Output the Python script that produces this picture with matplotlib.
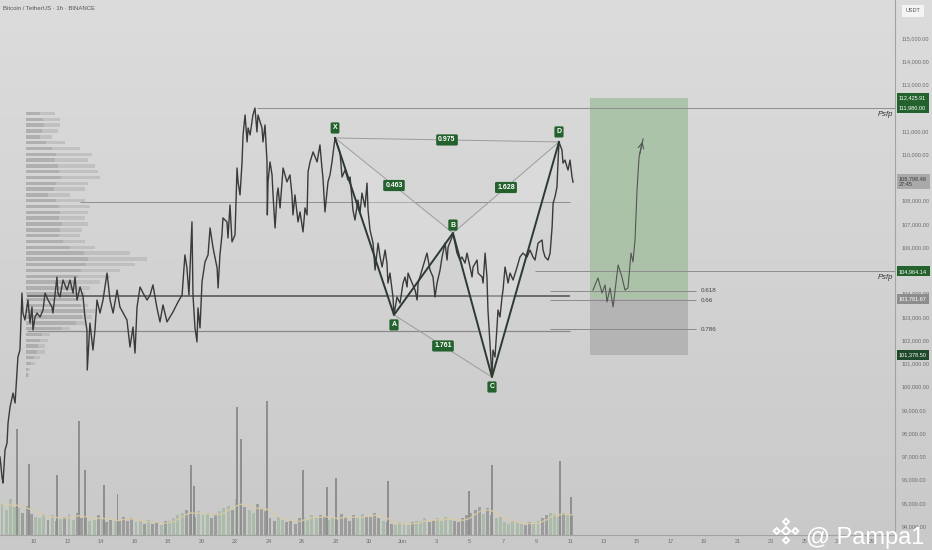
import numpy as np
import pandas as pd
import matplotlib
matplotlib.use("Agg")
import matplotlib.pyplot as plt
from matplotlib.colors import LinearSegmentedColormap
from matplotlib.patches import Polygon, Rectangle, RegularPolygon
from matplotlib.transforms import blended_transform_factory

plt.rcParams["font.family"] = ["Liberation Sans", "DejaVu Sans"]

# time axis: days after 10 May 00:00, prices in USDT
PRICE_DAY = [
    -2.03, -1.91, -1.85, -1.73, -1.61, -1.55, -1.43, -1.25, -1.13, -0.96,
    -0.84, -0.72, -0.66, -0.54, -0.36, -0.24, -0.12, -0.06, 0.06, 0.18,
    0.36, 0.54, 0.66, 0.84, 1.07, 1.13, 1.37, 1.43, 1.55, 1.73,
    1.97, 2.15, 2.33, 2.45, 2.57, 2.75, 2.93, 3.04, 3.16, 3.18,
    3.34, 3.52, 3.64, 3.76, 3.94, 4.12, 4.36, 4.54, 4.72, 4.96,
    5.13, 5.55, 5.73, 5.91, 6.03, 6.15, 6.33, 6.51, 6.75, 6.93,
    7.10, 7.34, 7.52, 7.70, 7.94, 8.30, 8.60, 8.84, 9.01, 9.13,
    9.25, 9.43, 9.49, 9.61, 9.73, 9.79, 9.91, 10.03, 10.21, 10.39,
    10.51, 10.69, 10.93, 10.99, 11.10, 11.22, 11.28, 11.52, 11.58, 11.70,
    11.82, 12.00, 12.12, 12.18, 12.30, 12.42, 12.48, 12.60, 12.72, 12.78,
    12.90, 13.07, 13.19, 13.31, 13.37, 13.61, 13.67, 13.79, 13.91, 13.93,
    13.97, 14.09, 14.21, 14.27, 14.39, 14.51, 14.57, 14.69, 14.87, 15.10,
    15.28, 15.40, 15.46, 15.58, 15.76, 15.88, 16.06, 16.18, 16.30, 16.36,
    16.48, 16.66, 16.90, 17.07, 17.19, 17.25, 17.37, 17.55, 17.67, 17.79,
    17.97, 18.27, 18.39, 18.57, 18.75, 18.87, 19.04, 19.16, 19.34, 19.46,
    19.58, 19.76, 19.88, 19.94, 20.06, 20.24, 20.36, 20.54, 20.66, 20.78,
    20.96, 21.07, 21.13, 21.25, 21.43, 21.49, 21.67, 21.85, 22.03, 22.15,
    22.27, 22.33, 22.57, 22.75, 22.87, 22.93, 23.16, 23.34, 23.46, 23.64,
    23.82, 23.94, 24.06, 24.24, 24.36, 24.54, 24.66, 24.72, 24.96, 25.01,
    25.13, 25.25, 25.43, 25.55, 25.73, 25.85, 26.03, 26.15, 26.21, 26.45,
    26.51, 26.75, 26.81, 26.93, 27.04, 27.10, 27.22, 27.34, 27.40, 27.52,
    27.64, 27.70, 27.82, 27.94, 28.00, 28.12, 28.24, 28.30, 28.42, 28.60,
    28.84, 29.01, 29.19, 29.43, 29.61, 29.79, 29.91, 30.09, 30.33, 30.39,
    30.51, 30.69, 30.81, 30.93, 30.99, 31.10, 31.22, 31.28, 31.34, 31.52,
    31.58, 31.70, 31.82, 31.88, 32.00, 32.12, 32.18,
]
PRICE = [
    96980, 96120, 95860, 97280, 97580, 98440, 99130, 99730, 99300, 101280,
    101580, 104030, 103170, 102870, 103730, 102740, 103430, 102440, 103000, 103170,
    103000, 103300, 104030, 103730, 103430, 103170, 104720, 104030, 103860, 104590,
    104160, 104590, 104030, 104720, 103730, 104290, 103860, 103000, 102440, 100720,
    102740, 101580, 102440, 103730, 103170, 103730, 104890, 103730, 103170, 104160,
    103430, 102870, 101710, 102570, 101450, 103430, 104290, 104030, 103730, 103950,
    104380, 103390, 102790, 103520, 102790, 103220, 103650, 103950, 105670, 105110,
    103950, 107090, 103950, 102530, 101930, 103390, 102530, 104510, 105370, 105670,
    106830, 105970, 105110, 104250, 105670, 106530, 107260, 107090, 106400, 107820,
    106230, 106530, 109410, 108810, 108250, 109670, 110830, 111690, 110530, 111130,
    110830, 111690, 111990, 110960, 111690, 111130, 110530, 111260, 109670, 107390,
    108810, 109670, 109110, 108250, 106830, 108250, 108550, 107690, 109410, 108810,
    109110, 108250, 107390, 108250, 107090, 107520, 106660, 107690, 107390, 109240,
    109670, 110100, 109670, 110400, 109410, 108980, 107520, 108810, 109110, 109670,
    110700, 110050, 109020, 109320, 108890, 109020, 107600, 107170, 108030, 107470,
    108330, 107730, 108760, 107600, 106740, 106180, 105020, 106180, 105580, 105150,
    105880, 105320, 104460, 104890, 103860, 103090, 103860, 103600, 104460, 104720,
    104290, 104890, 104460, 104160, 103730, 104460, 105020, 105450, 105750, 105020,
    104720, 103860, 104460, 105020, 105580, 106180, 105450, 106010, 106440, 106610,
    106180, 105750, 105450, 105580, 105320, 105750, 105150, 104720, 105150, 105450,
    104890, 104720, 104460, 105750, 104720, 103300, 101880, 100420, 101580, 101280,
    102570, 103300, 103000, 103860, 104160, 105150, 104720, 104460, 104890, 104590,
    105150, 105580, 105750, 105580, 105880, 105580, 105450, 106180, 106310, 105880,
    105580, 105450, 105750, 106870, 107900, 108160, 108590, 109620, 110530, 110180,
    109620, 109750, 109450, 109320, 109750, 109020, 108800,
]
CURRENT_PRICE = 108798.48

# harmonic pattern pivots
PIVOT_NAMES = ["X", "A", "B", "C", "D"]
PIVOT_DAY = [17.97, 21.49, 25.01, 27.34, 31.34]
PIVOT_PRICE = [110700, 103090, 106610, 100420, 110530]
RATIO_LEGS = [("X", "D", "0.975"), ("X", "B", "0.463"), ("B", "D", "1.628"), ("A", "C", "1.761")]

# long position tool
ENTRY = 103781.67
TARGET = 112425.91
STOP = 101378.50
POSITION_START, POSITION_END = 33.19, 39.04

# horizontal levels (price, start day, end day)
PSFP_HIGH = (111980.00, 13.31)
PSFP_LOW = (104964.14, 29.91)
LEVEL_MID = (107950, 2.75, 32.0)
LEVEL_POC = (103900, -0.42, 32.0)
LEVEL_LOW = (102400, -0.42, 32.0)

FIB_HIGH, FIB_LOW = 110250, 100350
FIB_RATIOS = [0.618, 0.66, 0.786]
FIB_START, FIB_END = 30.81, 39.5

# hand drawn projection
PROJ_DAY = [33.37, 33.67, 33.91, 34.09, 34.21, 34.39, 34.57, 34.87, 35.10,
            35.28, 35.46, 35.64, 35.76, 35.88, 36.00, 36.12, 36.36]
PROJ_PRICE = [104160, 104680, 104030, 104380, 103650, 104250, 103430, 105240, 104720,
              104160, 104250, 105750, 105370, 106310, 108460, 109880, 110660]

# visible range volume profile (relative volume per 250 USDT row)
PROFILE_PRICE = [
    111750, 111500, 111250, 111000, 110750, 110500, 110250, 110000, 109750, 109500,
    109250, 109000, 108750, 108500, 108250, 108000, 107750, 107500, 107250, 107000,
    106750, 106500, 106250, 106000, 105750, 105500, 105250, 105000, 104750, 104500,
    104250, 104000, 103750, 103500, 103250, 103000, 102750, 102500, 102250, 102000,
    101750, 101500, 101250, 101000, 100750, 100500,
]
PROFILE_TOTAL = [
    29, 34, 34, 32, 26, 39, 54, 66, 62, 69, 72, 74, 62, 59, 44, 59, 64, 62, 59, 62,
    56, 54, 59, 69, 104, 121, 109, 94, 84, 74, 64, 59, 57, 62, 69, 66, 59, 44, 24, 22,
    19, 19, 14, 9, 4, 3,
]
PROFILE_UP = [
    14, 17, 18, 16, 14, 20, 26, 30, 29, 32, 33, 35, 30, 28, 22, 30, 33, 34, 33, 36,
    34, 33, 37, 44, 58, 62, 60, 55, 52, 50, 48, 50, 52, 55, 58, 56, 50, 36, 16, 14,
    12, 11, 8, 5, 2, 2,
]
PROFILE_LEFT = -0.48
PROFILE_MAX_WIDTH = 7.2

# volume, BTC per 6h bucket starting 8 May 00:00
VOLUME_START = -2.0
VOLUME_STEP = 0.25
VOLUME = [
    2200, 1800, 2600, 2000, 1900, 1600, 2100, 1500, 1300, 1200, 1500, 1100,
    1400, 1000, 1200, 1300, 1500, 1100, 1600, 1200, 1300, 1000, 1100, 1400,
    1200, 900, 1100, 1000, 1100, 1300, 1000, 1200, 900, 1000, 800, 1100,
    800, 900, 700, 1000, 1000, 1200, 1400, 1600, 1800, 1500, 1300, 1700,
    1400, 1600, 1200, 1500, 1700, 1900, 2100, 1800, 2600, 2300, 2000, 1800,
    1600, 2200, 1900, 1700, 1200, 1000, 1300, 1100, 900, 1000, 800, 1200,
    1300, 1100, 1400, 1200, 1400, 1300, 1100, 1200, 1100, 1500, 1300, 1000,
    1400, 1200, 1500, 1300, 1300, 1600, 1200, 1000, 900, 800, 700, 900,
    800, 700, 900, 1000, 1000, 1200, 900, 1100, 1200, 1000, 1300, 1100,
    1000, 900, 1200, 1400, 1600, 1800, 2000, 1500, 1900, 1400, 1200, 1300,
    900, 800, 1000, 900, 800, 700, 900, 800, 1000, 1200, 1400, 1600,
    1500, 1300, 1600, 1400, 1500,
]
SPIKE_DAY = [-1.01, -0.30, 1.37, 2.69, 3.04, 4.18, 4.96, 9.37, 9.55, 12.12,
             12.36, 13.91, 16.06, 17.49, 18.03, 21.13, 25.97, 27.34, 31.40, 32.06]
SPIKE_VOLUME = [7570, 5070, 4280, 8140, 4640, 3570, 2930, 5000, 3500, 9140,
                6850, 9570, 4640, 3430, 4070, 3860, 3140, 5000, 5280, 2710]

DATE_TICKS = list(range(0, 51, 2))
DATE_LABELS = ["10", "12", "14", "16", "18", "20", "22", "24", "26", "28", "30", "Jun",
               "3", "5", "7", "9", "11", "13", "15", "17", "19", "21", "23", "25", "27", "29"]
PRICE_TICKS = [p for p in range(94000, 116000, 1000) if p not in (112000, 109000, 105000)]

GREEN_TAG = "#23622d"
AXIS_TEXT = "#6d6d6d"
SCALE_FONT = 4.0


def pivot(name):
    i = PIVOT_NAMES.index(name)
    return PIVOT_DAY[i], PIVOT_PRICE[i]


def main() -> None:
    fig = plt.figure(figsize=(9.32, 5.5), dpi=100)

    bg = fig.add_axes([0, 0, 1, 1])
    bg.imshow(np.linspace(0, 1, 256).reshape(-1, 1),
              cmap=LinearSegmentedColormap.from_list("bg", ["#dcdcdc", "#c9c9c9"]),
              aspect="auto", extent=[0, 1, 0, 1])
    bg.axis("off")

    rect = [0.0, 15 / 550, 895 / 932, 535 / 550]
    ax = fig.add_axes(rect)
    vax = fig.add_axes([rect[0], rect[1], rect[2], 140 / 550], sharex=ax)
    ax.set_zorder(3)
    vax.set_zorder(2)
    ax.patch.set_visible(False)
    vax.patch.set_visible(False)

    ax.set_xlim(-2.03, 51.40)
    ax.set_ylim(93624, 116634)

    # volume pane
    starts = VOLUME_START + VOLUME_STEP * np.arange(len(VOLUME))
    p0 = np.interp(starts, PRICE_DAY, PRICE)
    p1 = np.interp(starts + VOLUME_STEP, PRICE_DAY, PRICE)
    colors = np.where(p1 >= p0, "#a6b9a4", "#959595")
    vax.bar(starts, VOLUME, width=VOLUME_STEP * 0.7, align="edge", color=colors, linewidth=0, alpha=0.85)
    vax.bar(SPIKE_DAY, SPIKE_VOLUME, width=0.07, color="#8f8f8f", linewidth=0)
    ma = pd.Series(VOLUME).rolling(4, min_periods=1).mean()
    vax.plot(starts + VOLUME_STEP / 2, ma, color="#d8caa6", linewidth=1.0, alpha=0.9)
    vax.set_ylim(0, 10000)
    vax.axis("off")

    # volume profile
    scale = PROFILE_MAX_WIDTH / max(PROFILE_TOTAL)
    ax.barh(PROFILE_PRICE, np.array(PROFILE_TOTAL) * scale, left=PROFILE_LEFT, height=150,
            color="#b3b3b3", alpha=0.6, linewidth=0, zorder=1)
    ax.barh(PROFILE_PRICE, np.array(PROFILE_UP) * scale, left=PROFILE_LEFT, height=150,
            color="#a0a0a0", alpha=0.5, linewidth=0, zorder=1)

    # horizontal levels
    ax.hlines(PSFP_HIGH[0], PSFP_HIGH[1], 51.4, color="#8e8e8e", linewidth=0.7, zorder=2)
    ax.hlines(PSFP_LOW[0], PSFP_LOW[1], 51.4, color="#8e8e8e", linewidth=0.7, zorder=2)
    ax.hlines(LEVEL_MID[0], LEVEL_MID[1], LEVEL_MID[2], color="#8e8e8e", linewidth=0.7, zorder=2)
    ax.hlines(LEVEL_POC[0], LEVEL_POC[1], LEVEL_POC[2], color="#4f4f4f", linewidth=1.1, zorder=2)
    ax.hlines(LEVEL_LOW[0], LEVEL_LOW[1], LEVEL_LOW[2], color="#8a8a8a", linewidth=0.9, zorder=2)
    for r in FIB_RATIOS:
        level = FIB_HIGH - r * (FIB_HIGH - FIB_LOW)
        ax.hlines(level, FIB_START, FIB_END, color="#8a8a8a", linewidth=0.7, zorder=2)
        ax.text(FIB_END + 0.3, level, f"{r:g}", fontsize=4.5, color="#444444", va="center", ha="left")

    # position tool
    ax.add_patch(Rectangle((POSITION_START, ENTRY), POSITION_END - POSITION_START, TARGET - ENTRY,
                           facecolor="#a9c2a7", edgecolor="none", alpha=0.95, zorder=1))
    ax.add_patch(Rectangle((POSITION_START, STOP), POSITION_END - POSITION_START, ENTRY - STOP,
                           facecolor="#b3b3b3", edgecolor="none", alpha=0.95, zorder=1))

    # price
    ax.plot(PRICE_DAY, PRICE, color="#3a3a3a", linewidth=1.0, zorder=4)

    # harmonic pattern
    for tri in (("X", "A", "B"), ("B", "C", "D")):
        ax.add_patch(Polygon([pivot(n) for n in tri], closed=True, facecolor="#e4e4e4",
                             edgecolor="none", alpha=0.35, zorder=3))
    for a, b, _ in RATIO_LEGS:
        xa, ya = pivot(a)
        xb, yb = pivot(b)
        ax.plot([xa, xb], [ya, yb], color="#9c9c9c", linewidth=0.7, zorder=3)
    ax.plot(PIVOT_DAY, PIVOT_PRICE, color="#2c3a30", linewidth=1.4, zorder=5)

    tag = dict(boxstyle="round,pad=0.3,rounding_size=0.2", facecolor=GREEN_TAG, edgecolor="none")
    offsets = {"X": 10, "A": -10, "B": 8, "C": -10, "D": 10}
    for name, d, p in zip(PIVOT_NAMES, PIVOT_DAY, PIVOT_PRICE):
        ax.annotate(name, (d, p), xytext=(0, offsets[name]), textcoords="offset pixels",
                    ha="center", va="center", fontsize=5, color="white", fontweight="bold",
                    bbox=tag, zorder=6)
    for a, b, label in RATIO_LEGS:
        xa, ya = pivot(a)
        xb, yb = pivot(b)
        ax.text((xa + xb) / 2, (ya + yb) / 2, label, ha="center", va="center", fontsize=5,
                color="white", fontweight="bold", bbox=tag, zorder=6)

    # projection
    ax.plot(PROJ_DAY, PROJ_PRICE, color="#555555", linewidth=0.8, zorder=4)
    ax.annotate("", xy=(PROJ_DAY[-1], PROJ_PRICE[-1]), xytext=(PROJ_DAY[-2], PROJ_PRICE[-2]),
                arrowprops=dict(arrowstyle="->", color="#555555", linewidth=0.8), zorder=4)

    # Psfp tags
    for level in (PSFP_HIGH[0], PSFP_LOW[0]):
        ax.annotate("Psfp", (51.3, level), xytext=(0, -3), textcoords="offset pixels",
                    ha="right", va="top", fontsize=5.5, color="#333333", style="italic")

    # axes styling
    ax.yaxis.tick_right()
    ax.set_yticks(PRICE_TICKS)
    ax.set_yticklabels([f"{p:,.2f}" for p in PRICE_TICKS])
    ax.set_xticks(DATE_TICKS)
    ax.set_xticklabels(DATE_LABELS)
    ax.tick_params(axis="y", length=0, pad=4.5, labelsize=SCALE_FONT, labelcolor=AXIS_TEXT)
    ax.tick_params(axis="x", length=0, pad=3, labelsize=SCALE_FONT, labelcolor=AXIS_TEXT)
    for side in ("top", "left"):
        ax.spines[side].set_visible(False)
    ax.spines["right"].set_color("#a3a3a3")
    ax.spines["bottom"].set_color("#a3a3a3")
    ax.spines["right"].set_linewidth(0.8)
    ax.spines["bottom"].set_linewidth(0.8)

    # price scale tags
    trans = blended_transform_factory(ax.transAxes, ax.transData)
    tags = [
        (TARGET, f"{TARGET:,.2f}", GREEN_TAG, "white"),
        (PSFP_HIGH[0], f"{PSFP_HIGH[0]:,.2f}", GREEN_TAG, "white"),
        (PSFP_LOW[0], f"{PSFP_LOW[0]:,.2f}", GREEN_TAG, "white"),
        (ENTRY, f"{ENTRY:,.2f}", "#8d8d8d", "white"),
        (STOP, f"{STOP:,.2f}", "#1f4a29", "white"),
    ]
    for price, text, fc, tc in tags:
        ax.annotate(text, (1.0, price), xycoords=trans, xytext=(4, 0), textcoords="offset pixels",
                    ha="left", va="center", fontsize=SCALE_FONT, color=tc, annotation_clip=False,
                    bbox=dict(boxstyle="square,pad=0.45", facecolor=fc, edgecolor="none"), zorder=10)
    ax.annotate(f"{CURRENT_PRICE:,.2f}\n27:45", (1.0, CURRENT_PRICE), xycoords=trans,
                xytext=(4, 6), textcoords="offset pixels", ha="left", va="top", fontsize=SCALE_FONT,
                color="#3a3a3a", annotation_clip=False, linespacing=1.2,
                bbox=dict(boxstyle="square,pad=0.45", facecolor="#a9a9a9", edgecolor="none"), zorder=10)

    fig.text(913 / 932, 1 - 11 / 550, "USDT", ha="center", va="center", fontsize=SCALE_FONT,
             color="#555555", bbox=dict(boxstyle="square,pad=0.7", facecolor="#f4f4f4", edgecolor="none"))
    fig.text(3 / 932, 1 - 9 / 550, "Bitcoin / TetherUS · 1h · BINANCE", ha="left", va="center",
             fontsize=4.3, color="#555555")

    # watermark
    fig.text(806 / 932, 1 - 538 / 550, "@ Pampa1", ha="left", va="center", fontsize=17, color="white")
    lax = fig.add_axes([771 / 932, 1 - 546 / 550, 30 / 932, 30 / 550])
    lax.set_xlim(-1, 1)
    lax.set_ylim(-1, 1)
    lax.set_aspect("equal")
    lax.axis("off")
    for cx, cy, r in [(0, 0, 0.28), (-0.62, 0, 0.2), (0.62, 0, 0.2), (0, 0.62, 0.2), (0, -0.62, 0.2)]:
        lax.add_patch(RegularPolygon((cx, cy), 4, radius=r, facecolor="none",
                                     edgecolor="white", linewidth=1.4))

    fig.savefig("out.png", dpi=100)
    plt.close(fig)


if __name__ == "__main__":
    main()
